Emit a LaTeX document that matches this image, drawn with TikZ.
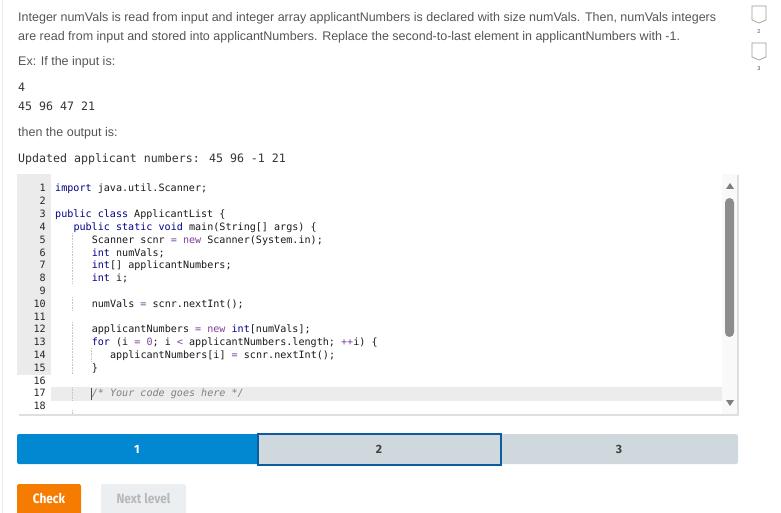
\documentclass[tikz,border=0pt]{standalone}
\usepackage{fontspec}
\setmainfont{Liberation Sans}
\newfontfamily\codefont{DejaVu Sans Mono}
\newfontfamily\btnfont{Fira Sans}

\definecolor{desc}{HTML}{555555}
\definecolor{kwblue}{HTML}{000088}
\definecolor{oppurple}{HTML}{7F3F9F}
\definecolor{gutter}{HTML}{EBEBEB}
\definecolor{hiline}{HTML}{ECECEC}
\definecolor{track}{HTML}{F9F9F9}
\definecolor{zyblue}{HTML}{0288D1}
\definecolor{zygray}{HTML}{CFD8DC}
\definecolor{zydark}{HTML}{0D5BA1}
\definecolor{zyorange}{HTML}{F57C00}
\definecolor{zylight}{HTML}{ECEFF1}

\newcommand{\kw}[1]{\textcolor{kwblue}{#1}}
\newcommand{\op}[1]{\textcolor{oppurple}{#1}}

\tikzset{
  desctext/.style={anchor=base west, inner sep=0pt, text=desc, font=\fontsize{12.5}{14}\selectfont},
  sampletext/.style={anchor=base west, inner sep=0pt, text=black!80, font=\codefont\fontsize{11.6}{13}\selectfont},
  codeline/.style={anchor=base west, inner sep=0pt, text=black!90, font=\codefont\fontsize{10.1}{12}\selectfont},
  lineno/.style={anchor=base east, inner sep=0pt, text=black!85, font=\codefont\fontsize{10.1}{12}\selectfont},
  guide/.style={gray!45, densely dotted, line width=0.6pt},
  segnum/.style={inner sep=0pt, font=\btnfont\bfseries\fontsize{12}{14}\selectfont},
  btntext/.style={inner sep=0pt, font=\btnfont\bfseries\fontsize{13.5}{15}\selectfont, xscale=0.88},
  levelicon/.style={draw=gray!80, line width=0.7pt}
}

\begin{document}
\begin{tikzpicture}[x=1pt, y=-1pt]
  % Canvas, in pixels of the screenshot
  \useasboundingbox (0,0) rectangle (781,513);
  \def\codex{55}   % left edge of the code text
  \def\cw{6.1}     % width of one code character
  \def\lh{12.8}    % height of one code line
  \def\basey{192}  % baseline of code line 1

  % Page edge
  \draw[gray!15, line width=1pt] (2.5,0) -- (2.5,513);

  % Problem statement
  \node[desctext] (intro1) at (18,22) {Integer numVals is read from input and integer array applicantNumbers is declared with size numVals. Then, numVals integers};
  \node[desctext] (intro2) at (18,41) {are read from input and stored into applicantNumbers. Replace the second-to-last element in applicantNumbers with -1.};
  \node[desctext] (exinput) at (18,66) {Ex: If the input is:};
  \node[sampletext] (in1) at (18,92) {4};
  \node[sampletext] (in2) at (18,111) {45 96 47 21};
  \node[desctext] (exoutput) at (18,137) {then the output is:};
  \node[sampletext] (out1) at (18,163) {Updated applicant numbers: 45 96 -1 21};

  % Level markers on the right
  \draw[levelicon] (752,6) -- (766,6) -- (766,20) -- (759,23) -- (752,20) -- cycle;
  \node[inner sep=0pt, text=zydark, font=\fontsize{5.5}{6}\selectfont] (mark2) at (759,32) {2};
  \draw[levelicon] (752,43) -- (766,43) -- (766,57) -- (759,60) -- (752,57) -- cycle;
  \node[inner sep=0pt, text=black!70, font=\fontsize{5.5}{6}\selectfont] (mark3) at (759,69) {3};

  % Editor frame, gutter and current line
  \fill[gray!25] (18.5,175.5) rectangle (738.5,415.5);
  \fill[white] (17,174) rectangle (737,414);
  \fill[gutter] (17,174) rectangle (51,375);
  \fill[hiline] (51,387) rectangle (722,400.5);

  % Line numbers
  \foreach \n in {1,...,18}
    \node[lineno] (ln\n) at (46,{\basey+(\n-1)*\lh}) {\n};

  % Indent guides
  \draw[guide] (72,233) -- (72,284);
  \draw[guide] (72,297) -- (72,310);
  \draw[guide] (72,322) -- (72,374);
  \draw[guide] (72,387) -- (72,400);
  \draw[guide] (72,410) -- (72,414);
  \draw[guide] (91,348) -- (91,361);

  % Code
  \node[codeline] (code1) at ({\codex},{\basey}) {\kw{import} java.util.Scanner;};
  \node[codeline] (code3) at ({\codex},{\basey+2*\lh}) {\kw{public} \kw{class} ApplicantList \{};
  \node[codeline] (code4) at ({\codex+3*\cw},{\basey+3*\lh}) {\kw{public} \kw{static} \kw{void} main(String[] args) \{};
  \node[codeline] (code5) at ({\codex+6*\cw},{\basey+4*\lh}) {Scanner scnr \op{=} \op{new} Scanner(System.in);};
  \node[codeline] (code6) at ({\codex+6*\cw},{\basey+5*\lh}) {\kw{int} numVals;};
  \node[codeline] (code7) at ({\codex+6*\cw},{\basey+6*\lh}) {\kw{int}[] applicantNumbers;};
  \node[codeline] (code8) at ({\codex+6*\cw},{\basey+7*\lh}) {\kw{int} i;};
  \node[codeline] (code10) at ({\codex+6*\cw},{\basey+9*\lh}) {numVals \op{=} scnr.nextInt();};
  \node[codeline] (code12) at ({\codex+6*\cw},{\basey+11*\lh}) {applicantNumbers \op{=} \op{new} \kw{int}[numVals];};
  \node[codeline] (code13) at ({\codex+6*\cw},{\basey+12*\lh}) {\kw{for} (i \op{=} \op{0}; i \op{<} applicantNumbers.length; \op{++}i) \{};
  \node[codeline] (code14) at ({\codex+9*\cw},{\basey+13*\lh}) {applicantNumbers[i] \op{=} scnr.nextInt();};
  \node[codeline] (code15) at ({\codex+6*\cw},{\basey+14*\lh}) {\}};
  \node[codeline, text=gray] (code17) at ({\codex+6*\cw},{\basey+16*\lh}) {\itshape /* Your code goes here */};
  \draw[black!70, line width=0.6pt] (91.3,388) -- (91.3,400);

  % Scrollbar
  \fill[track] (722,174) rectangle (737,414);
  \fill[gray!55!black!70] (726,189) -- (734,189) -- (730,183) -- cycle;
  \fill[gray!55!black!70] (726,400) -- (734,400) -- (730,406) -- cycle;
  \fill[black!45, rounded corners=4.5pt] (725,198) rectangle (734,337);

  % Level progress bar
  \fill[zyblue, rounded corners=2pt] (17,434) rectangle (262,464);
  \fill[zyblue] (257,434) rectangle (262,464);
  \fill[zygray, rounded corners=2pt] (496,434) rectangle (738,464);
  \fill[zygray] (257,434) rectangle (501,464);
  \draw[zydark, line width=2pt] (258,434) rectangle (501,465);
  \node[segnum, text=white] (seg1) at (137,449) {1};
  \node[segnum, text=black!75] (seg2) at (379,449) {2};
  \node[segnum, text=black!75] (seg3) at (619,449) {3};

  % Buttons
  \fill[zyorange, rounded corners=1.5pt] (17,484) rectangle (81,516);
  \node[btntext, text=white] (check) at (49,498) {Check};
  \fill[zylight, rounded corners=1.5pt] (101,484) rectangle (186,516);
  \node[btntext, text=black!28] (nextlevel) at (143.5,498) {Next level};
\end{tikzpicture}
\end{document}
